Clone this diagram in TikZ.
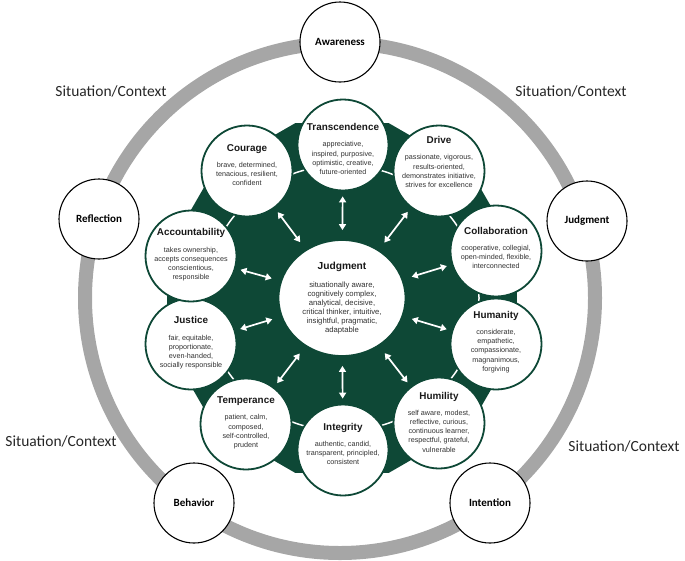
\documentclass[tikz,border=0pt]{standalone}
\usepackage{fontspec}
\setmainfont{Liberation Sans}
\newfontfamily\calib{Carlito}
\usetikzlibrary{arrows.meta,shapes.geometric}
\definecolor{dg}{RGB}{14,72,54}
\definecolor{ringgray}{RGB}{166,166,166}
\definecolor{bodytxt}{RGB}{50,50,50}
\newcommand\vtitle{\fontsize{9.9}{11}\selectfont\bfseries\color{black!90}}
\begin{document}
\begin{tikzpicture}[x=1pt,y=-1pt,
  virt/.style={circle,draw=dg,line width=1.8pt,fill=white,minimum size=91pt,inner sep=0pt},
  vtxt/.style={inner sep=0pt,align=center,text=bodytxt,font=\fontsize{7.2}{9.2}\selectfont},
  core/.style={ellipse,draw=dg,line width=1.8pt,fill=white,minimum width=127pt,minimum height=116pt,inner sep=0pt,align=center,text=bodytxt,font=\fontsize{7.7}{9}\selectfont},
  outer/.style={circle,draw=black,line width=1.1pt,fill=white,minimum size=80pt,inner sep=0pt,font=\calib\bfseries\fontsize{11}{13}\selectfont},
  ctx/.style={font=\calib\fontsize{15.5}{18}\selectfont,text=black!85},
  warr/.style={draw=white,line width=1.7pt,{Triangle[length=6pt,width=7pt]}-{Triangle[length=6pt,width=7pt]},shorten <=9pt,shorten >=5pt}
]
\useasboundingbox (0,0) rectangle (685,560);
% gray ring
\draw[ringgray,line width=14pt] (340,298) circle[radius=255];
% green dodecagon
\fill[dg] plot[samples at={15,45,...,345}] ({342+181*cos(\x)},{298+181*sin(\x)}) -- cycle;
% white inner ring
\draw[white,line width=1.5pt] (342,298) ellipse[x radius=137,y radius=133];
% virtue circles
\node[virt] (trans) at (343,145) {};
\node[virt] (drive) at (439,171) {};
\node[virt] (collab) at (496,251) {};
\node[virt] (human) at (496,344) {};
\node[virt] (humil) at (439,423) {};
\node[virt] (integ) at (343,450) {};
\node[virt] (temper) at (246,424) {};
\node[virt] (justice) at (191,344) {};
\node[virt] (account) at (191,256) {};
\node[virt] (courage) at (247,171) {};
% virtue texts
\node[vtxt] (transt) at ([yshift=-4pt]trans.center) {{\vtitle Transcendence}\\[7pt]appreciative,\\inspired, purposive,\\optimistic, creative,\\future-oriented};
\node[vtxt] (drivet) at ([yshift=9pt]drive.center) {{\vtitle Drive}\\[7pt]passionate, vigorous,\\results-oriented,\\demonstrates initiative,\\strives for excellence};
\node[vtxt] (collabt) at ([yshift=3pt]collab.center) {{\vtitle Collaboration}\\[7pt]cooperative, collegial,\\open-minded, flexible,\\interconnected};
\node[vtxt] (humant) at ([yshift=2pt]human.center) {{\vtitle Humanity}\\[7pt]considerate,\\empathetic,\\compassionate,\\magnanimous,\\forgiving};
\node[vtxt] (humilt) at ([yshift=1pt]humil.center) {{\vtitle Humility}\\[7pt]self aware, modest,\\reflective, curious,\\continuous learner,\\respectful, grateful,\\vulnerable};
\node[vtxt] (integt) at ([yshift=6pt]integ.center) {{\vtitle Integrity}\\[7pt]authentic, candid,\\transparent, principled,\\consistent};
\node[vtxt] (tempert) at ([yshift=1pt]temper.center) {{\vtitle Temperance}\\[7pt]patient, calm,\\composed,\\self-controlled,\\prudent};
\node[vtxt] (justicet) at ([yshift=1pt]justice.center) {{\vtitle Justice}\\[7pt]fair, equitable,\\proportionate,\\even-handed,\\socially responsible};
\node[vtxt] (accountt) at ([yshift=1pt]account.center) {{\vtitle Accountability}\\[7pt]takes ownership,\\accepts consequences\\conscientious,\\responsible};
\node[vtxt] (couraget) at ([yshift=6pt]courage.center) {{\vtitle Courage}\\[7pt]brave, determined,\\tenacious, resilient,\\confident};
% core
\node[core] (judg) at (342,298) {{\fontsize{10.2}{12}\selectfont\bfseries\color{black!90}Judgment}\\[9pt]situationally aware,\\cognitively complex,\\analytical, decisive,\\critical thinker, intuitive,\\insightful, pragmatic,\\adaptable};
% arrows
\foreach \n in {trans,drive,collab,human,humil,integ,temper,justice,account,courage}
  \draw[warr] (judg) -- (\n);
% outer circles
\node[outer] (aware) at (340,42) {Awareness};
\node[outer] (ojudg) at (587,221) {Judgment};
\node[outer] (inten) at (490,503) {Intention};
\node[outer] (behav) at (194,503) {Behavior};
\node[outer] (refl) at (99,219) {Reflection};
% context labels
\node[ctx] (c1) at (111,91) {Situation/Context};
\node[ctx] (c2) at (571,91) {Situation/Context};
\node[ctx] (c3) at (61,441) {Situation/Context};
\node[ctx] (c4) at (624,446) {Situation/Context};
\end{tikzpicture}
\end{document}
